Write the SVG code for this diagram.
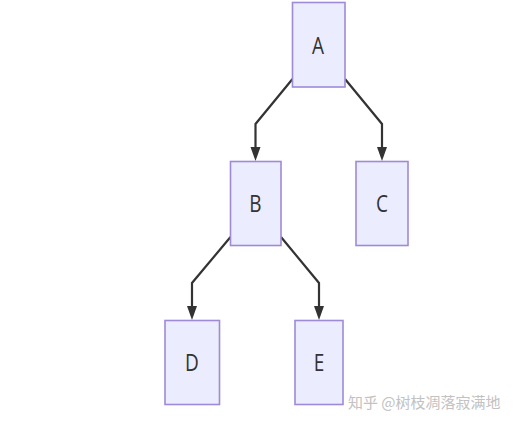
<svg xmlns="http://www.w3.org/2000/svg" width="513" height="425" viewBox="0 0 513 425">
<style>
.node rect{fill:#ECECFF;stroke:#9f8ad8;stroke-width:1.6}
.node text{font-family:"Open Sans","Liberation Sans",sans-serif;font-size:19px;fill:#333;text-anchor:middle}
.edge{fill:none;stroke:#333;stroke-width:2.2}
.wm{font-family:"Noto Sans CJK SC","Noto Sans",sans-serif;font-size:15px;fill:#c2c2c2}
</style>
<rect width="513" height="425" fill="#fff"/>
<g id="connectors">
<path class="edge" d="M292.5,79 L255.5,124 L255.5,148"/>
<path class="edge" d="M345,79 L382,124 L382,148"/>
<path class="edge" d="M230.5,237 L192,283 L192,307"/>
<path class="edge" d="M281,237 L319,283 L319,307"/>
<path d="M250.5,147 L260.5,147 L255.5,161 Z" fill="#333"/>
<path d="M377,147 L387,147 L382,161 Z" fill="#333"/>
<path d="M187,306 L197,306 L192,320 Z" fill="#333"/>
<path d="M314,306 L324,306 L319,320 Z" fill="#333"/>
</g>
<g id="A" class="node"><rect x="292.5" y="2.5" width="52.5" height="84.5"/><text transform="translate(318,54) scale(1,1.2)">A</text></g>
<g id="B" class="node"><rect x="230.5" y="161.5" width="50.5" height="84"/><text transform="translate(255.5,212) scale(1,1.2)">B</text></g>
<g id="C" class="node"><rect x="356" y="161.5" width="52" height="84"/><text transform="translate(382,212) scale(1,1.2)">C</text></g>
<g id="D" class="node"><rect x="165" y="320.5" width="54.5" height="84"/><text transform="translate(192,371) scale(1,1.2)">D</text></g>
<g id="E" class="node"><rect x="295" y="320.5" width="48" height="84"/><text transform="translate(319,371) scale(1,1.2)">E</text></g>
<text class="wm" x="348" y="408">知乎 @树枝凋落寂满地</text>
</svg>
